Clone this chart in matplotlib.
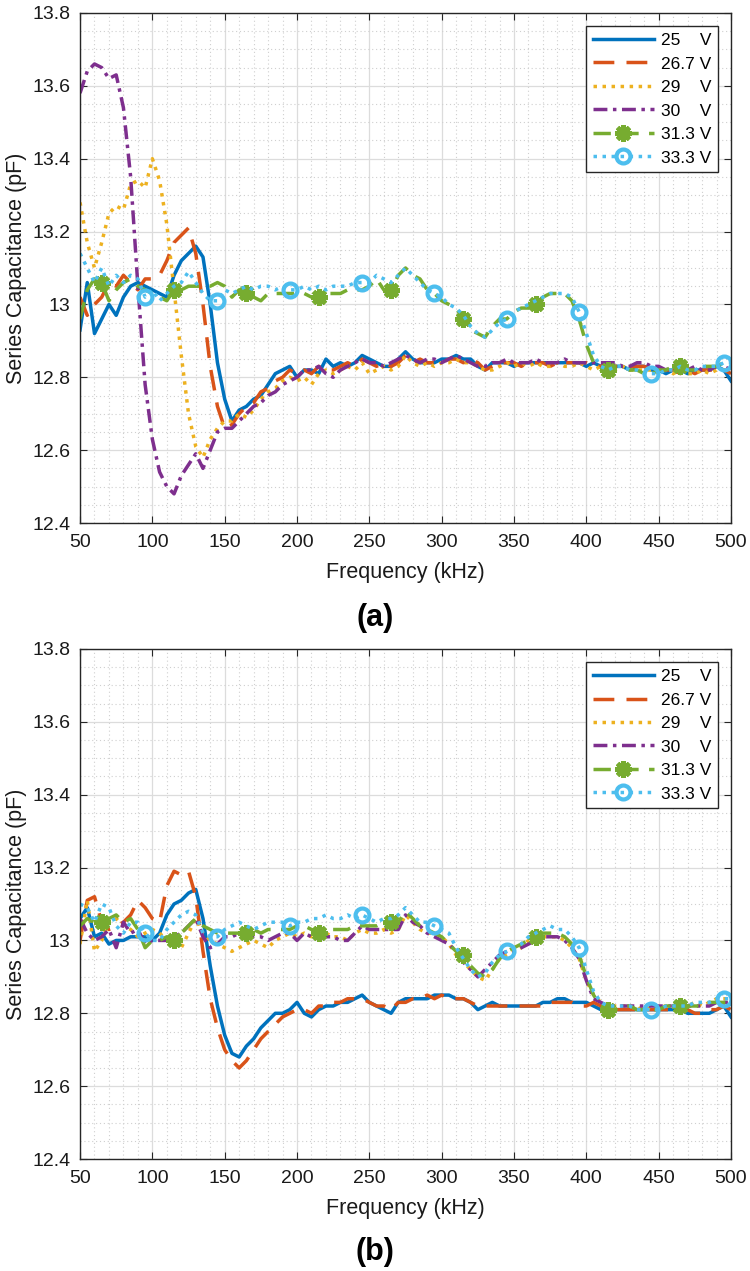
import numpy as np
import matplotlib
matplotlib.use("Agg")
import matplotlib.pyplot as plt
from matplotlib.ticker import MultipleLocator, FuncFormatter

plt.rcParams['font.family'] = ['Liberation Sans', 'DejaVu Sans']

# frequency grid (kHz), 5 kHz steps
freq = np.arange(50, 501, 5)

labels = ['25    V', '26.7 V', '29    V', '30    V', '31.3 V', '33.3 V']
colors = ['#0072BD', '#D95319', '#EDB120', '#7E2F8E', '#77AC30', '#4DBEEE']

# ---- panel (a) values (pF) ----
a_25 = [12.93, 13.06, 12.92, 12.96, 13.00, 12.97, 13.02, 13.05, 13.06, 13.05,
        13.04, 13.03, 13.02, 13.08, 13.12, 13.14, 13.16, 13.13, 13.00, 12.84,
        12.74, 12.68, 12.71, 12.72, 12.74, 12.75, 12.78, 12.81, 12.82, 12.83,
        12.80, 12.82, 12.82, 12.81, 12.85, 12.83, 12.84, 12.83, 12.84, 12.86,
        12.85, 12.84, 12.83, 12.83, 12.85, 12.87, 12.85, 12.84, 12.84, 12.84,
        12.85, 12.85, 12.86, 12.85, 12.85, 12.83, 12.82, 12.84, 12.84, 12.84,
        12.83, 12.84, 12.84, 12.84, 12.84, 12.84, 12.84, 12.84, 12.84, 12.84,
        12.83, 12.84, 12.83, 12.83, 12.83, 12.83, 12.82, 12.83, 12.83, 12.82,
        12.82, 12.81, 12.82, 12.82, 12.81, 12.82, 12.82, 12.82, 12.83, 12.82,
        12.79]
a_267 = [13.02, 12.97, 13.00, 13.02, 13.06, 13.05, 13.08, 13.06, 13.04, 13.07,
         13.07, 13.08, 13.12, 13.17, 13.19, 13.21, 13.14, 13.00, 12.83, 12.72,
         12.66, 12.67, 12.70, 12.72, 12.73, 12.76, 12.77, 12.79, 12.80, 12.82,
         12.81, 12.82, 12.81, 12.83, 12.82, 12.82, 12.83, 12.84, 12.83, 12.85,
         12.84, 12.83, 12.84, 12.83, 12.84, 12.86, 12.84, 12.85, 12.84, 12.84,
         12.84, 12.85, 12.85, 12.84, 12.85, 12.84, 12.82, 12.83, 12.84, 12.84,
         12.84, 12.83, 12.84, 12.84, 12.84, 12.83, 12.84, 12.84, 12.84, 12.84,
         12.84, 12.83, 12.83, 12.84, 12.83, 12.83, 12.83, 12.83, 12.83, 12.82,
         12.82, 12.82, 12.82, 12.81, 12.82, 12.81, 12.82, 12.82, 12.82, 12.82,
         12.81]
a_29 = [13.28, 13.17, 13.10, 13.17, 13.25, 13.27, 13.26, 13.33, 13.34, 13.32,
        13.40, 13.34, 13.22, 13.04, 12.86, 12.70, 12.61, 12.58, 12.63, 12.66,
        12.68, 12.68, 12.70, 12.69, 12.71, 12.74, 12.76, 12.77, 12.79, 12.80,
        12.79, 12.80, 12.78, 12.81, 12.82, 12.81, 12.82, 12.83, 12.82, 12.84,
        12.81, 12.82, 12.83, 12.82, 12.83, 12.86, 12.84, 12.83, 12.84, 12.83,
        12.84, 12.84, 12.85, 12.84, 12.84, 12.83, 12.82, 12.82, 12.83, 12.84,
        12.83, 12.84, 12.83, 12.84, 12.83, 12.83, 12.84, 12.83, 12.83, 12.84,
        12.83, 12.82, 12.83, 12.83, 12.82, 12.83, 12.82, 12.82, 12.82, 12.82,
        12.81, 12.82, 12.81, 12.82, 12.81, 12.81, 12.82, 12.81, 12.82, 12.82,
        12.82]
a_30 = [13.58, 13.64, 13.66, 13.65, 13.62, 13.63, 13.54, 13.35, 13.05, 12.78,
        12.63, 12.54, 12.50, 12.48, 12.53, 12.56, 12.59, 12.55, 12.60, 12.65,
        12.66, 12.66, 12.68, 12.70, 12.72, 12.73, 12.75, 12.76, 12.78, 12.79,
        12.80, 12.82, 12.82, 12.83, 12.81, 12.80, 12.82, 12.83, 12.84, 12.85,
        12.84, 12.84, 12.83, 12.84, 12.85, 12.86, 12.85, 12.84, 12.85, 12.85,
        12.84, 12.85, 12.86, 12.85, 12.84, 12.83, 12.83, 12.84, 12.84, 12.85,
        12.84, 12.84, 12.84, 12.85, 12.84, 12.84, 12.84, 12.85, 12.84, 12.84,
        12.84, 12.84, 12.84, 12.84, 12.84, 12.83, 12.83, 12.84, 12.84, 12.83,
        12.83, 12.82, 12.83, 12.82, 12.82, 12.83, 12.82, 12.82, 12.83, 12.83,
        12.82]
a_313 = [12.96, 13.04, 13.07, 13.06, 13.01, 13.04, 13.06, 13.07, 13.05, 13.04,
         13.03, 13.02, 13.01, 13.04, 13.04, 13.05, 13.05, 13.05, 13.05, 13.06,
         13.05, 13.02, 13.04, 13.03, 13.02, 13.01, 13.03, 13.03, 13.03, 13.03,
         13.03, 13.03, 13.02, 13.02, 13.03, 13.03, 13.03, 13.04, 13.04, 13.04,
         13.05, 13.07, 13.04, 13.04, 13.08, 13.10, 13.08, 13.07, 13.04, 13.03,
         13.01, 13.00, 12.99, 12.96, 12.93, 12.92, 12.91, 12.94, 12.96, 12.96,
         12.98, 12.99, 12.99, 13.00, 13.02, 13.03, 13.03, 13.03, 13.01, 12.96,
         12.89, 12.84, 12.82, 12.82, 12.83, 12.83, 12.82, 12.82, 12.81, 12.81,
         12.82, 12.82, 12.83, 12.83, 12.82, 12.82, 12.83, 12.83, 12.83, 12.84,
         12.83]
a_333 = [13.14, 13.10, 13.06, 13.10, 13.05, 13.08, 13.06, 13.08, 13.07, 13.02,
         13.04, 13.01, 13.03, 13.05, 13.06, 13.09, 13.06, 13.03, 13.01, 13.01,
         13.04, 13.03, 13.04, 13.05, 13.04, 13.05, 13.05, 13.04, 13.05, 13.04,
         13.04, 13.05, 13.04, 13.05, 13.04, 13.05, 13.05, 13.05, 13.06, 13.06,
         13.06, 13.08, 13.07, 13.06, 13.08, 13.10, 13.08, 13.06, 13.04, 13.03,
         13.02, 13.00, 12.99, 12.97, 12.94, 12.92, 12.91, 12.93, 12.95, 12.96,
         12.98, 12.99, 13.00, 13.01, 13.02, 13.03, 13.03, 13.03, 13.02, 12.98,
         12.92, 12.86, 12.83, 12.82, 12.83, 12.83, 12.82, 12.82, 12.81, 12.81,
         12.81, 12.82, 12.82, 12.83, 12.82, 12.82, 12.83, 12.83, 12.83, 12.84,
         12.84]

# ---- panel (b) values (pF) ----
b_25 = [13.06, 13.09, 13.01, 13.02, 12.99, 13.00, 13.00, 13.01, 13.01, 13.01,
        13.00, 13.02, 13.07, 13.10, 13.11, 13.13, 13.14, 13.06, 12.93, 12.82,
        12.74, 12.69, 12.68, 12.71, 12.73, 12.76, 12.78, 12.80, 12.80, 12.81,
        12.83, 12.80, 12.79, 12.81, 12.82, 12.82, 12.83, 12.83, 12.84, 12.85,
        12.83, 12.82, 12.81, 12.80, 12.83, 12.84, 12.84, 12.84, 12.84, 12.85,
        12.85, 12.85, 12.84, 12.84, 12.83, 12.81, 12.82, 12.83, 12.82, 12.82,
        12.82, 12.82, 12.82, 12.82, 12.83, 12.83, 12.84, 12.84, 12.83, 12.83,
        12.83, 12.82, 12.81, 12.81, 12.81, 12.81, 12.81, 12.81, 12.81, 12.81,
        12.81, 12.81, 12.81, 12.81, 12.80, 12.80, 12.80, 12.80, 12.81, 12.82,
        12.79]
b_267 = [13.00, 13.11, 13.12, 13.05, 13.03, 13.04, 13.05, 13.07, 13.11, 13.09,
         13.06, 13.05, 13.15, 13.19, 13.18, 13.19, 13.12, 12.97, 12.84, 12.76,
         12.70, 12.67, 12.65, 12.67, 12.70, 12.73, 12.75, 12.77, 12.79, 12.80,
         12.81, 12.81, 12.80, 12.82, 12.82, 12.83, 12.83, 12.84, 12.84, 12.84,
         12.83, 12.82, 12.82, 12.81, 12.83, 12.83, 12.84, 12.84, 12.85, 12.84,
         12.85, 12.84, 12.84, 12.84, 12.83, 12.82, 12.82, 12.82, 12.82, 12.82,
         12.82, 12.82, 12.82, 12.82, 12.82, 12.83, 12.83, 12.83, 12.83, 12.82,
         12.82, 12.83, 12.82, 12.81, 12.81, 12.81, 12.81, 12.81, 12.81, 12.81,
         12.81, 12.81, 12.81, 12.81, 12.81, 12.80, 12.80, 12.81, 12.81, 12.82,
         12.81]
b_29 = [12.99, 13.11, 12.97, 13.00, 13.05, 13.06, 13.04, 13.03, 13.01, 13.02,
        13.03, 13.02, 13.00, 12.99, 12.98, 13.02, 13.06, 13.02, 13.00, 12.99,
        12.98, 12.97, 12.98, 12.99, 13.00, 12.99, 12.98, 13.00, 13.01, 13.02,
        13.01, 13.02, 13.01, 13.02, 13.02, 13.01, 13.01, 13.00, 13.02, 13.03,
        13.02, 13.02, 13.03, 13.02, 13.03, 13.07, 13.05, 13.03, 13.02, 13.02,
        13.01, 12.99, 12.96, 12.94, 12.92, 12.90, 12.89, 12.92, 12.95, 12.96,
        12.97, 12.98, 13.00, 13.00, 13.01, 13.01, 13.01, 13.00, 12.98, 12.95,
        12.89, 12.85, 12.83, 12.82, 12.82, 12.82, 12.82, 12.81, 12.82, 12.81,
        12.82, 12.82, 12.82, 12.82, 12.82, 12.83, 12.82, 12.83, 12.84, 12.84,
        12.84]
b_30 = [13.06, 13.02, 13.00, 13.01, 13.03, 12.98, 13.05, 13.02, 13.03, 12.99,
        13.00, 13.00, 13.00, 13.01, 13.02, 13.04, 13.06, 13.01, 12.98, 12.99,
        13.01, 13.01, 13.02, 13.02, 13.01, 13.01, 13.00, 13.01, 13.02, 13.02,
        13.00, 13.02, 13.01, 13.01, 13.01, 13.01, 13.00, 13.00, 13.02, 13.04,
        13.03, 13.03, 13.03, 13.03, 13.03, 13.07, 13.05, 13.04, 13.02, 13.01,
        13.00, 12.99, 12.97, 12.94, 12.92, 12.90, 12.92, 12.94, 12.96, 12.97,
        12.97, 12.98, 12.99, 13.00, 13.01, 13.01, 13.01, 13.00, 12.98, 12.95,
        12.89, 12.84, 12.83, 12.82, 12.82, 12.82, 12.82, 12.82, 12.82, 12.82,
        12.82, 12.82, 12.82, 12.82, 12.82, 12.82, 12.82, 12.82, 12.83, 12.83,
        12.83]
b_313 = [13.04, 13.06, 13.05, 13.05, 13.06, 13.07, 13.05, 13.06, 13.03, 12.98,
         13.00, 13.00, 13.01, 13.00, 13.02, 13.04, 13.06, 13.04, 13.03, 13.02,
         13.02, 13.02, 13.02, 13.02, 13.03, 13.02, 13.03, 13.03, 13.03, 13.03,
         13.04, 13.04, 13.03, 13.02, 13.03, 13.03, 13.03, 13.03, 13.04, 13.04,
         13.04, 13.04, 13.05, 13.05, 13.05, 13.08, 13.06, 13.04, 13.03, 13.02,
         13.01, 12.99, 12.97, 12.96, 12.93, 12.91, 12.90, 12.92, 12.95, 12.97,
         12.98, 12.99, 13.00, 13.01, 13.02, 13.02, 13.02, 13.01, 12.99, 12.96,
         12.90, 12.85, 12.82, 12.81, 12.81, 12.82, 12.82, 12.81, 12.81, 12.81,
         12.81, 12.82, 12.82, 12.82, 12.82, 12.82, 12.82, 12.83, 12.83, 12.83,
         12.83]
b_333 = [13.10, 13.09, 13.05, 13.10, 13.09, 13.04, 13.02, 13.05, 13.05, 13.02,
         13.00, 13.00, 13.03, 13.05, 13.07, 13.08, 13.07, 13.02, 13.01, 13.01,
         13.03, 13.04, 13.05, 13.04, 13.03, 13.04, 13.05, 13.05, 13.05, 13.04,
         13.05, 13.05, 13.06, 13.06, 13.07, 13.06, 13.06, 13.07, 13.06, 13.07,
         13.06, 13.05, 13.06, 13.06, 13.07, 13.09, 13.07, 13.05, 13.05, 13.04,
         13.03, 13.02, 12.98, 12.95, 12.92, 12.90, 12.91, 12.94, 12.96, 12.97,
         12.98, 12.99, 13.01, 13.02, 13.03, 13.04, 13.03, 13.03, 13.01, 12.98,
         12.92, 12.86, 12.83, 12.82, 12.82, 12.82, 12.82, 12.81, 12.81, 12.81,
         12.81, 12.82, 12.82, 12.82, 12.82, 12.83, 12.83, 12.83, 12.84, 12.84,
         12.84]

panel_a = [a_25, a_267, a_29, a_30, a_313, a_333]
panel_b = [b_25, b_267, b_29, b_30, b_313, b_333]

styles = [
    dict(linestyle='-'),
    dict(linestyle=(0, (6, 3.5))),
    dict(linestyle=(0, (1, 1.6))),
    dict(linestyle=(0, (4, 1.6, 1, 1.6))),
    dict(linestyle=(0, (5, 3)), marker=(8, 2, 0), markersize=12, markeredgewidth=3.4, markevery=(3, 10)),
    dict(linestyle=(0, (1, 1.6)), marker='o', markersize=10, markerfacecolor='none', markeredgewidth=3, markevery=(9, 10)),
]

fig = plt.figure(figsize=(7.5, 12.71), dpi=100)
ax_a = fig.add_axes([0.1067, 0.5885, 0.868, 0.4013])
ax_b = fig.add_axes([0.1067, 0.0881, 0.868, 0.4013])

axc = '#262626'
for ax, series in [(ax_a, panel_a), (ax_b, panel_b)]:
    for vals, lab, c, st in zip(series, labels, colors, styles):
        ax.plot(freq, vals, color=c, linewidth=2.5, label=lab, **st)
    ax.set_xlim(50, 500)
    ax.set_ylim(12.4, 13.8)
    ax.xaxis.set_major_locator(MultipleLocator(50))
    ax.xaxis.set_minor_locator(MultipleLocator(10))
    ax.yaxis.set_major_locator(MultipleLocator(0.2))
    ax.yaxis.set_minor_locator(MultipleLocator(0.05))
    ax.yaxis.set_major_formatter(FuncFormatter(lambda v, p: '%g' % round(v, 2)))
    ax.grid(which='major', color='#dcdcdc', linewidth=0.9)
    ax.grid(which='minor', color='#cfcfcf', linewidth=0.8, linestyle=(0, (1, 2.5)))
    ax.set_axisbelow(True)
    ax.tick_params(which='both', direction='in', top=True, right=True, colors=axc,
                   labelsize=14, labelcolor='#1a1a1a')
    ax.tick_params(which='major', length=5)
    ax.tick_params(axis='x', which='major', pad=8)
    ax.tick_params(axis='y', which='major', pad=7)
    ax.tick_params(which='minor', length=0)
    for sp in ax.spines.values():
        sp.set_color(axc)
        sp.set_linewidth(1.0)
    ax.set_xlabel('Frequency (kHz)', fontsize=15.5, color='#1a1a1a', labelpad=8)
    ax.set_ylabel('Series Capacitance (pF)', fontsize=15.5, color='#1a1a1a', labelpad=4)
    leg = ax.legend(loc='upper right', fontsize=12.5, handlelength=3.5, labelspacing=0.48,
                    borderpad=0.4, handletextpad=0.4, fancybox=False, framealpha=1,
                    edgecolor=axc, borderaxespad=0.75)
    leg.get_frame().set_linewidth(1.0)

fig.text(0.5, 1 - 618 / 1271, '(a)', ha='center', va='center', fontsize=22, fontweight='bold')
fig.text(0.5, 1 - 1252 / 1271, '(b)', ha='center', va='center', fontsize=22, fontweight='bold')

fig.savefig('out.png', dpi=100)
